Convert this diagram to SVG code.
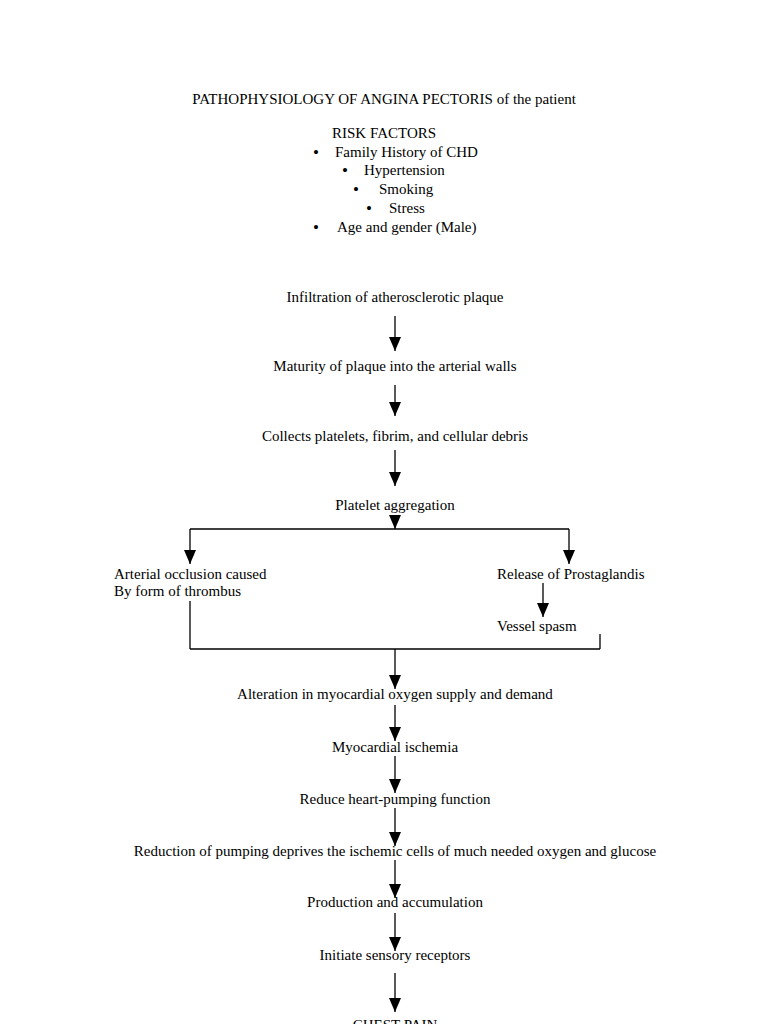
<svg xmlns="http://www.w3.org/2000/svg" width="768" height="1024" viewBox="0 0 768 1024">
<defs>
<style>
text{font-family:"Liberation Serif",serif;font-size:15px;fill:#000}
.c{text-anchor:middle}
.b{font-size:17px}
line{stroke:#000;stroke-width:1.3}
</style>
<marker id="a" markerWidth="14" markerHeight="12" refX="14" refY="6" orient="auto" markerUnits="userSpaceOnUse" viewBox="0 0 14 12"><path d="M0,0L14,6L0,12Z"/></marker>
</defs>
<rect width="768" height="1024" fill="#fff"/>
<g id="header">
<text x="384" y="104" class="c">PATHOPHYSIOLOGY OF ANGINA PECTORIS of the patient</text>
<text x="332" y="138">RISK FACTORS</text>
<text x="313" y="158" class="b">•</text><text x="335" y="157">Family History of CHD</text>
<text x="342" y="176" class="b">•</text><text x="364" y="175">Hypertension</text>
<text x="353" y="195" class="b">•</text><text x="379" y="194">Smoking</text>
<text x="366" y="214" class="b">•</text><text x="389" y="213">Stress</text>
<text x="313" y="233" class="b">•</text><text x="337" y="232">Age and gender (Male)</text>
</g>
<g id="n1"><text x="395" y="302" class="c">Infiltration of atherosclerotic plaque</text></g>
<g id="n2"><text x="395" y="371" class="c">Maturity of plaque into the arterial walls</text></g>
<g id="n3"><text x="395" y="441" class="c">Collects platelets, fibrim, and cellular debris</text></g>
<g id="n4"><text x="395" y="510" class="c">Platelet aggregation</text></g>
<g id="n5"><text x="114" y="579">Arterial occlusion caused</text><text x="114" y="596">By form of thrombus</text></g>
<g id="n6"><text x="497" y="579">Release of Prostaglandis</text></g>
<g id="n7"><text x="497" y="631">Vessel spasm</text></g>
<g id="n8"><text x="395" y="699" class="c">Alteration in myocardial oxygen supply and demand</text></g>
<g id="n9"><text x="395" y="752" class="c">Myocardial ischemia</text></g>
<g id="n10"><text x="395" y="804" class="c">Reduce heart-pumping function</text></g>
<g id="n11"><text x="395" y="856" class="c">Reduction of pumping deprives the ischemic cells of much needed oxygen and glucose</text></g>
<g id="n12"><text x="395" y="907" class="c">Production and accumulation</text></g>
<g id="n13"><text x="395" y="960" class="c">Initiate sensory receptors</text></g>
<g id="n14"><text x="395" y="1030" class="c">CHEST PAIN</text></g>
<g id="connectors">
<line x1="395" y1="316" x2="395" y2="351" marker-end="url(#a)"/>
<line x1="395" y1="385" x2="395" y2="416" marker-end="url(#a)"/>
<line x1="395" y1="450" x2="395" y2="486" marker-end="url(#a)"/>
<line x1="395" y1="515" x2="395" y2="529" marker-end="url(#a)"/>
<line x1="190" y1="529" x2="569" y2="529"/>
<line x1="190" y1="529" x2="190" y2="564" marker-end="url(#a)"/>
<line x1="569" y1="529" x2="569" y2="564" marker-end="url(#a)"/>
<line x1="543" y1="583" x2="543" y2="617" marker-end="url(#a)"/>
<line x1="190" y1="601" x2="190" y2="649"/>
<line x1="600" y1="634" x2="600" y2="649"/>
<line x1="190" y1="649" x2="600" y2="649"/>
<line x1="395" y1="649" x2="395" y2="689" marker-end="url(#a)"/>
<line x1="395" y1="705" x2="395" y2="741" marker-end="url(#a)"/>
<line x1="395" y1="756" x2="395" y2="793" marker-end="url(#a)"/>
<line x1="395" y1="808" x2="395" y2="846" marker-end="url(#a)"/>
<line x1="395" y1="860" x2="395" y2="898" marker-end="url(#a)"/>
<line x1="395" y1="913" x2="395" y2="951" marker-end="url(#a)"/>
<line x1="395" y1="973" x2="395" y2="1012" marker-end="url(#a)"/>
</g>
</svg>
